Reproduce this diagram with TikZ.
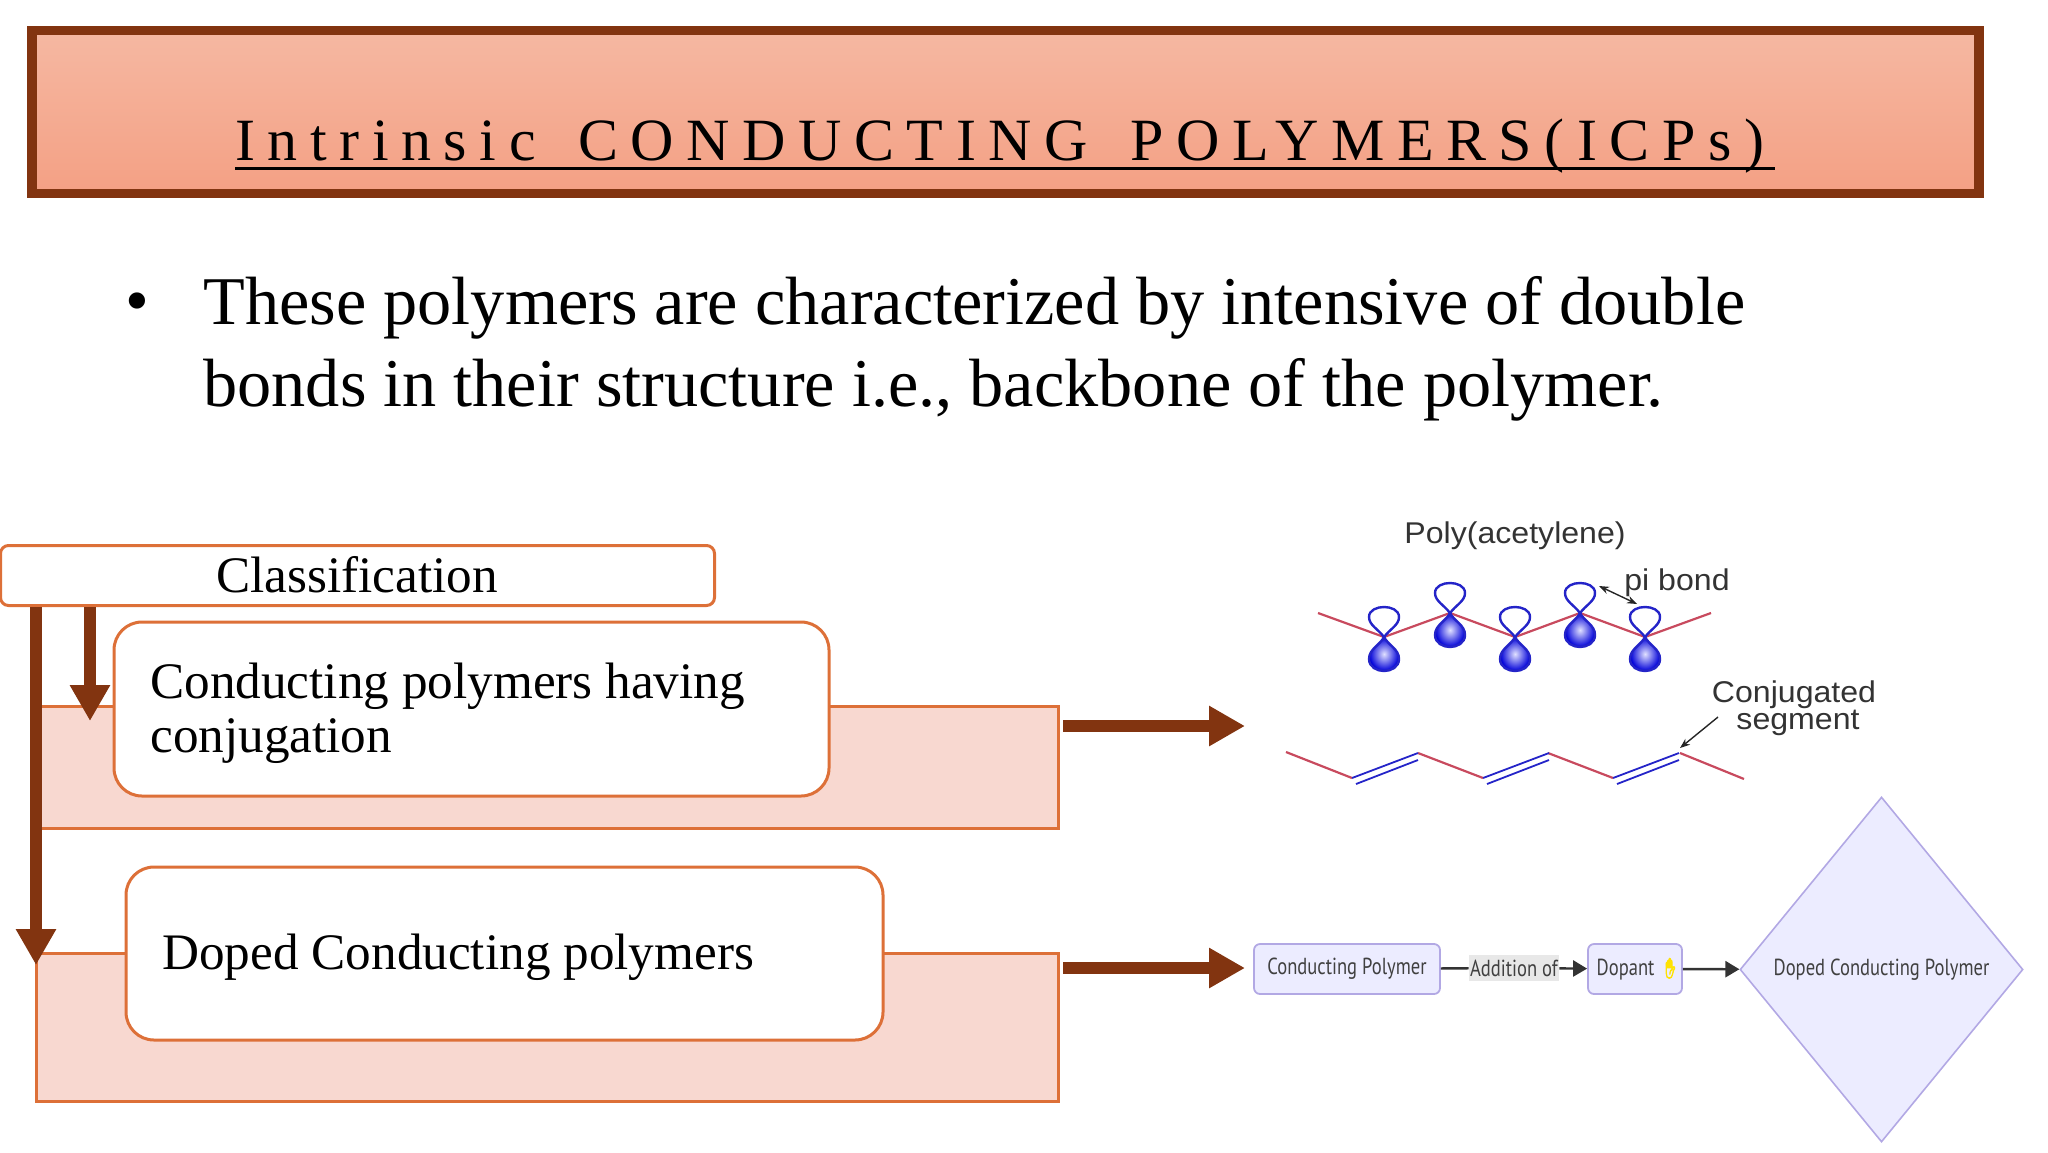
\documentclass[tikz,border=0pt]{standalone}
\usepackage{fontspec}
\setmainfont{Liberation Serif}
\newfontfamily\titlefont[LetterSpace=20.9,WordSpace=1.55]{Liberation Serif}
\newfontfamily\chemfont[FakeStretch=1.07]{Liberation Sans}
\newfontfamily\chartfont[FakeStretch=0.8]{PT Sans}
\newfontfamily\emojifont[FakeStretch=0.55,FakeBold=4]{Noto Emoji}
\usetikzlibrary{arrows.meta,
                positioning,
                shapes.geometric
            }
\definecolor{brownline}{HTML}{823410}
\definecolor{titletop}{HTML}{F5B8A2}
\definecolor{titlebot}{HTML}{F4A084}
\definecolor{orangeline}{HTML}{DD7038}
\definecolor{pinkfill}{HTML}{F8D8D0}
\definecolor{lavfill}{HTML}{ECECFF}
\definecolor{lavline}{HTML}{B2A8E4}
\definecolor{bondred}{HTML}{C84A5E}
\definecolor{bondblue}{HTML}{2424C8}
\tikzset{
    pinkbox/.style={draw=orangeline, fill=pinkfill, line width=1.5pt},
    whitebox/.style={draw=orangeline, fill=white, line width=1.5pt, rounded corners=14pt, anchor=north west, inner sep=0pt},
    boxtext/.style={anchor=base west, inner sep=0pt, font=\fontsize{25.6}{27}\selectfont},
    bigarrow/.style={brownline, line width=6pt, -{Triangle[length=18pt,width=19pt]}},
    chemtext/.style={anchor=base, inner sep=0pt, text=black!80, font=\chemfont\fontsize{15}{18}\selectfont},
    chartbox/.style={draw=lavline, fill=lavfill, line width=0.9pt, rounded corners=3pt, inner sep=0pt, minimum height=25pt, text=black!75, font=\chartfont\fontsize{11.6}{13}\selectfont},
    chartarrow/.style={black!80, line width=1.2pt, -{Triangle[length=7pt,width=8pt]}}
}
\begin{document}
\begin{tikzpicture}[x=0.5pt, y=-0.5pt]
    \useasboundingbox (0, 0) rectangle (2048, 1152);
    % title
    \node[draw=brownline, line width=4.75pt, top color=titletop, bottom color=titlebot, minimum width=973.5pt, minimum height=81.5pt, inner sep=0pt] (titlebox) at (1005.5, 112) {};
    \node[anchor=base west, inner sep=0pt, font=\titlefont\fontsize{30}{32}\selectfont] (titletext) at (235, 160) {Intrinsic CONDUCTING POLYMERS(ICPs)};
    \draw[black, line width=1.5pt] ([yshift=-4pt]titletext.base west) -- ([xshift=5pt, yshift=-4pt]titletext.base east);
    % bullet
    \node[inner sep=0pt, font=\fontsize{34}{41}\selectfont] (bullet) at (137, 308) {•};
    \node[anchor=base west, inner sep=0pt, font=\fontsize{34.15}{41}\selectfont] (lineone) at (203, 324) {These polymers are characterized by intensive of double};
    \node[anchor=base west, inner sep=0pt, font=\fontsize{34.15}{41}\selectfont] (linetwo) at (203, 406) {bonds in their structure i.e., backbone of the polymer.};
    % left part
    \draw[pinkbox] (36, 706) rectangle (1058, 828);
    \draw[pinkbox] (36, 953) rectangle (1058, 1101);
    \node[whitebox, minimum width=357.5pt, minimum height=87pt] (conjbox) at (112.5, 620.5) {};
    \node[whitebox, minimum width=378.5pt, minimum height=86.5pt] (dopedbox) at (124.5, 865.5) {};
    \node[whitebox, rounded corners=4pt, minimum width=357pt, minimum height=30pt] (classbox) at (-1, 544) {};
    \node[font=\fontsize{25.6}{27}\selectfont, inner sep=0pt] (classtext) at (357, 575) {Classification};
    \node[boxtext] (conjone) at (150, 698) {Conducting polymers having};
    \node[boxtext] (conjtwo) at (150, 752) {conjugation};
    \node[boxtext] (dopedtext) at (162, 969) {Doped Conducting polymers};
    \coordinate (shortend) at (90, 721);
    \coordinate (longend) at (36, 965);
    \draw[bigarrow] (classbox.south -| shortend) -- (shortend);
    \draw[bigarrow] (classbox.south -| longend) -- (longend);
    \coordinate (topstart) at (1063, 726);
    \coordinate (topend) at (1245, 726);
    \coordinate (lowstart) at (1063, 968);
    \coordinate (lowend) at (1245, 968);
    \draw[bigarrow] (topstart) -- (topend);
    \draw[bigarrow] (lowstart) -- (lowend);
    % poly(acetylene)
    \node[chemtext] (polytext) at (1515, 543) {Poly(acetylene)};
    \node[chemtext] (pitext) at (1677, 590) {pi bond};
    \node[chemtext] (conjugtext) at (1794, 702) {Conjugated};
    \node[chemtext] (segtext) at (1798, 729) {segment};
    \draw[bondred, line width=1.1pt] (1318, 613) -- (1384, 637) -- (1450, 613) -- (1515, 637) -- (1580, 613) -- (1645, 637) -- (1711, 613);
    \foreach \px/\py in {1384/637, 1450/613, 1515/637, 1580/613, 1645/637} {
        \draw[bondblue, line width=1.2pt] (\px, \py) .. controls (\px-6, \py-8) and (\px-15, \py-12) .. (\px-15, \py-20) .. controls (\px-15, \py-27) and (\px-7, \py-30) .. (\px, \py-30) .. controls (\px+7, \py-30) and (\px+15, \py-27) .. (\px+15, \py-20) .. controls (\px+15, \py-12) and (\px+6, \py-8) .. (\px, \py);
        \draw[bondblue, line width=1.2pt, inner color=blue!12, outer color=blue!85!black] (\px, \py) .. controls (\px-4, \py+8) and (\px-15, \py+12) .. (\px-15, \py+22) .. controls (\px-15, \py+30) and (\px-7, \py+34) .. (\px, \py+34) .. controls (\px+7, \py+34) and (\px+15, \py+30) .. (\px+15, \py+22) .. controls (\px+15, \py+12) and (\px+4, \py+8) .. (\px, \py);
    }
    \coordinate (pifrom) at (1599, 586);
    \coordinate (pito) at (1637, 604);
    \draw[black!85, line width=0.7pt, {Stealth[length=5pt]}-{Stealth[length=5pt]}] (pifrom) -- (pito);
    % chain
    \draw[bondred, line width=1.1pt] (1286, 752) -- (1352, 778);
    \draw[bondred, line width=1.1pt] (1418, 753) -- (1483, 778);
    \draw[bondred, line width=1.1pt] (1548, 753) -- (1613, 778);
    \draw[bondred, line width=1.1pt] (1680, 753) -- (1744, 779);
    \foreach \bx in {1352, 1483, 1613} {
        \draw[bondblue, line width=0.9pt] (\bx, 778) -- (\bx+66, 753);
        \draw[bondblue, line width=0.9pt] (\bx+4, 784) -- (\bx+66, 760);
    }
    \coordinate (segfrom) at (1718, 717);
    \coordinate (segto) at (1680, 748);
    \draw[black!85, line width=0.7pt, -{Stealth[length=5pt]}] (segfrom) -- (segto);
    % flow
    \node[chartbox, minimum width=93pt] (polymer) at (1347, 969) {Conducting Polymer};
    \node[fill=black!9, inner sep=0.5pt, minimum height=13pt, text=black!75, font=\chartfont\fontsize{11.6}{13}\selectfont] (addition) at (1514, 968) {Addition of};
    \node[chartbox, minimum width=47pt] (dopant) at (1635, 969) {\hspace{2pt}Dopant \hspace{2pt}{\emojifont\color{yellow!85!orange}\fontsize{10}{12}\selectfont ✋}};
    \node[diamond, draw=lavline, fill=lavfill, line width=0.8pt, inner sep=0pt, minimum width=141.5pt, minimum height=172.5pt, text=black!75, font=\chartfont\fontsize{11.6}{13}\selectfont] (doped) at (1881.5, 969.5) {Doped Conducting Polymer};
    \draw[black!80, line width=1.2pt] (polymer) -- (addition);
    \draw[chartarrow] (addition) -- (dopant);
    \draw[chartarrow] (dopant) -- (doped);
\end{tikzpicture}
\end{document}
